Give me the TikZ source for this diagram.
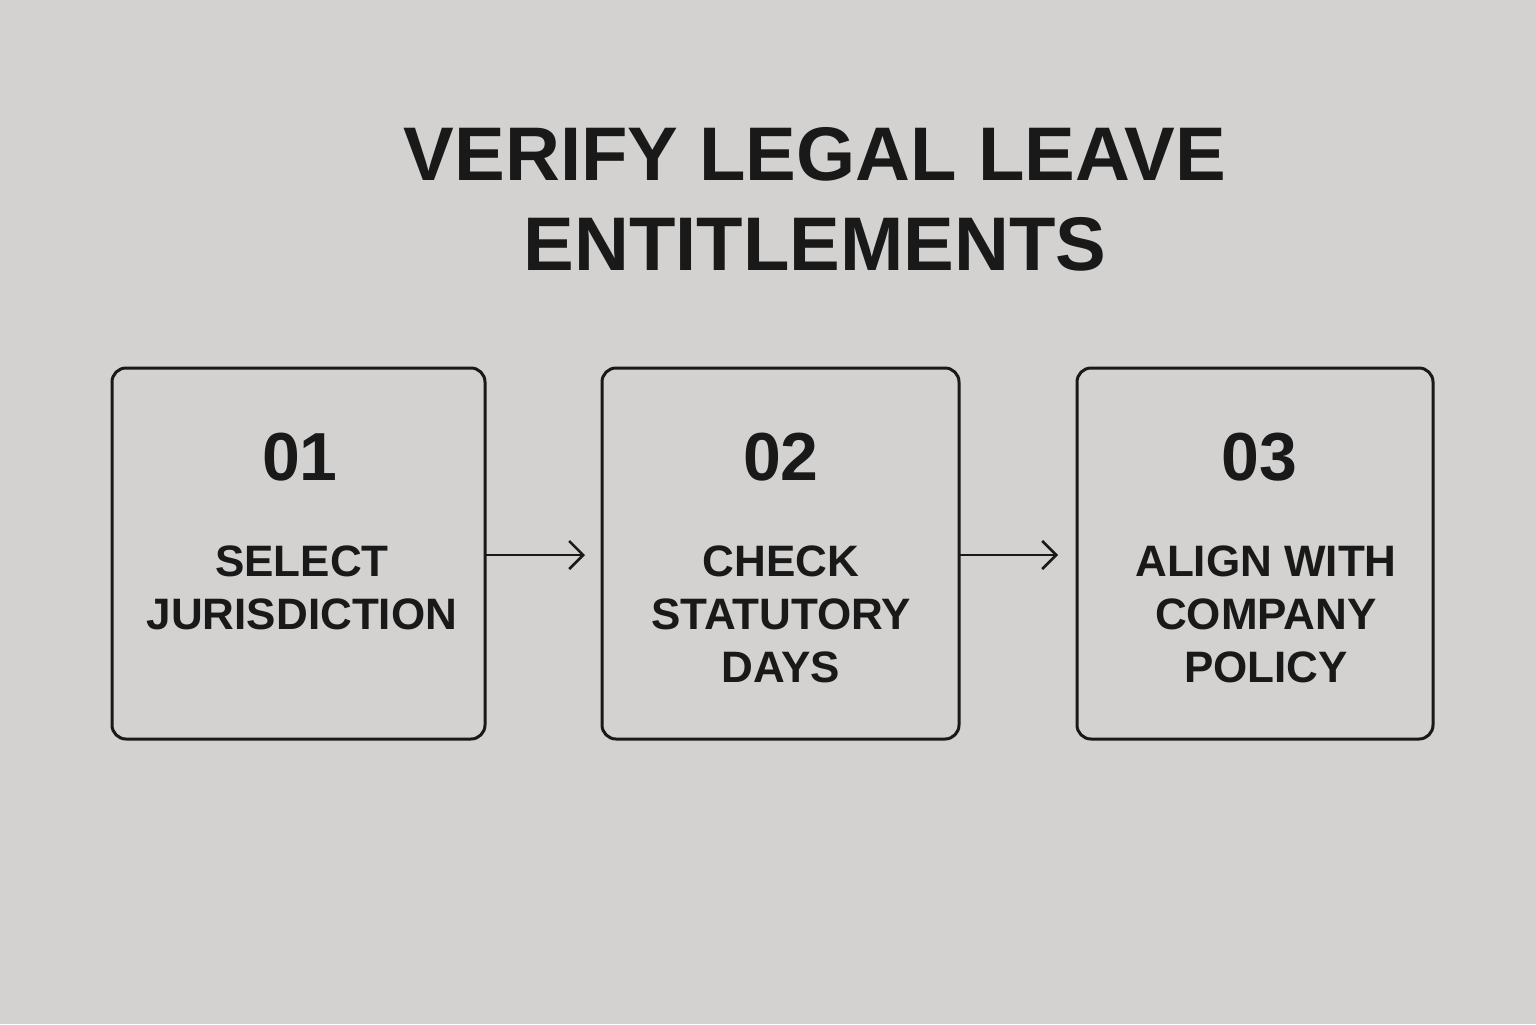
\documentclass[tikz,border=0pt]{standalone}
\usepackage{fontspec}
\setmainfont{Liberation Sans}
\usetikzlibrary{arrows.meta}
\begin{document}
\begin{tikzpicture}[x=0.5pt,y=-0.5pt,
  stepbox/.style={draw=black!90,line width=1.5pt,rounded corners=7pt},
  num/.style={font=\fontsize{34}{34}\selectfont\bfseries,text=black!90},
  lbl/.style={font=\fontsize{22}{26.5}\selectfont\bfseries,text=black!90,align=center,anchor=north},
  conn/.style={line width=1.3pt,draw=black!90,-{Straight Barb[length=7pt,width=14pt,line width=1.3pt]}}]
\fill[white!98!yellow!60!gray] (0,0) rectangle (1536,1024);
\useasboundingbox (0,0) rectangle (1536,1024);
\node[font=\fontsize{38}{45}\selectfont\bfseries,align=center,text=black!90] (title) at (815,199) {VERIFY LEGAL LEAVE\\ENTITLEMENTS};
\draw[stepbox] (112,368) rectangle (485,739);
\draw[stepbox] (602,368) rectangle (959,739);
\draw[stepbox] (1077,368) rectangle (1433,739);
\coordinate (b1r) at (485,555); \coordinate (b2l) at (585,555);
\coordinate (b2r) at (959,555); \coordinate (b3l) at (1058,555);
\node[num] (n1) at (300,457) {01};
\node[num] (n2) at (781,457) {02};
\node[num] (n3) at (1259,457) {03};
\node[lbl] (l1) at (302,539) {SELECT\\JURISDICTION};
\node[lbl] (l2) at (781,539) {CHECK\\STATUTORY\\DAYS};
\node[lbl] (l3) at (1266,539) {ALIGN WITH\\COMPANY\\POLICY};
\draw[conn] (b1r) -- (b2l);
\draw[conn] (b2r) -- (b3l);
\end{tikzpicture}
\end{document}
